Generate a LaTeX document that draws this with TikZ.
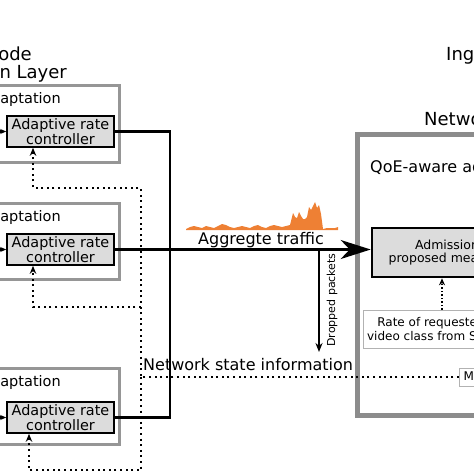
\documentclass[tikz,border=0pt]{standalone}
\usepackage{fontspec}
\setmainfont{DejaVu Sans}
\usetikzlibrary{arrows.meta}
\definecolor{traffic}{RGB}{238,128,52}
\definecolor{boxgray}{RGB}{150,150,150}
\definecolor{ctrlfill}{RGB}{220,220,220}

\begin{document}
\begin{tikzpicture}[x=1pt,y=-1pt,
  wire/.style={draw,line width=2.1pt},
  dotline/.style={line width=2pt,dash pattern=on 2pt off 3.6pt},
  dottip/.style={-{Stealth[length=8pt,width=6.5pt]}},
  adaptbox/.style={draw=boxgray,line width=3pt},
  ctrl/.style={draw,fill=ctrlfill,line width=1.6pt,minimum width=107pt,minimum height=31pt,inner sep=0pt,align=center,font=\fontsize{14.4}{15}\selectfont},
  title/.style={font=\fontsize{18}{20}\selectfont,inner sep=0pt},
  lbl/.style={font=\fontsize{16}{18}\selectfont,inner sep=0pt},
  info/.style={draw=black!30,fill=white,line width=1pt,inner sep=0pt,align=center,font=\fontsize{12}{13.5}\selectfont}]

\path[use as bounding box] (0,0) rectangle (474,474);
\clip (0,0) rectangle (474,474);

% titles
\node[title,anchor=base east] (srcnode) at (32,60) {Source Node};
\node[title,anchor=base east] (applayer) at (67,78) {Application Layer};
\node[title,anchor=base west] (ingnode) at (446,60) {Ingress Node};
\node[title,anchor=base west] (netlayer) at (424,125) {Network Layer};

% adaptation blocks
\foreach \i/\t/\b in {1/85/162,2/203/279,3/368/444}{
  \draw[adaptbox] (-40,\t) rectangle (119,\b);
  \node[font=\fontsize{14.5}{16}\selectfont,inner sep=0pt,anchor=base east] (adlbl\i) at (61,\t+18) {Rate adaptation};
}
\node[ctrl] (arc1) at (60.5,131.5) {Adaptive rate\\controller};
\node[ctrl] (arc2) at (60.5,249.5) {Adaptive rate\\controller};
\node[ctrl] (arc3) at (60.5,417.5) {Adaptive rate\\controller};

\foreach \i in {1,2,3}
  \draw[wire,-{Stealth[length=6pt,width=5pt]}] ([xshift=-20pt]arc\i.west) -- (arc\i.west);

% network layer
\draw[draw=black!45,line width=5pt] (357,134) rectangle (620,415);
\node[lbl,anchor=base west] (qoe) at (370,172) {QoE-aware admission control};
\node[draw,fill=ctrlfill,line width=2.6pt,minimum width=150pt,minimum height=49pt,inner sep=0pt,align=center,font=\fontsize{12.5}{13}\selectfont] (adm) at (447,252.5) {Admission\\proposed measure};
\node[info,minimum width=136pt,minimum height=38pt] (rate) at (431,329) {Rate of requested\\video class from SDN};
\node[info,anchor=west,minimum height=18pt,inner xsep=4pt] (mon) at (459,377) {Monitoring};
\draw[line width=1.3pt,dash pattern=on 1.3pt off 2.2pt,-{Stealth[length=7pt,width=6pt]}] (rate.north -| 442,0) -- (adm.south -| 442,0);

% aggregate traffic
\fill[traffic] (186,229) -- (190,227) -- (194,226) -- (198,227) -- (202,228) -- (206,226) -- (210,227)
  -- (214,228) -- (218,226) -- (222,224) -- (226,225) -- (230,227) -- (234,228) -- (238,227)
  -- (242,226) -- (246,227) -- (250,228) -- (254,226) -- (258,225) -- (262,227) -- (266,228)
  -- (270,226) -- (274,225) -- (278,226) -- (282,227) -- (286,226) -- (290,225) -- (293,213)
  -- (295,217) -- (297,218) -- (299,212) -- (301,216) -- (303,219) -- (305,219) -- (307,217)
  -- (309,207) -- (311,210) -- (313,206) -- (315,202) -- (317,208) -- (319,205) -- (321,214)
  -- (323,229) -- (327,228) -- (331,228) -- (335,228) -- (338,227) -- (338,230) -- (186,230) -- cycle;
\node[lbl,anchor=base west] (agg) at (198,244) {Aggregte traffic};

\coordinate (join) at (170,300);
\draw[wire] (arc1.east) -| (join) |- (arc3.east);
\draw[wire,-{Stealth[length=30pt,width=19pt,inset=9pt]}] (arc2.east) -- (arc2.east -| adm.west);

\coordinate (dropfrom) at (319,249.5);
\coordinate (dropto) at (319,352);
\draw[wire,-{Stealth[length=9pt,width=7pt]}] (dropfrom) -- (dropto);
\node[font=\fontsize{11}{12}\selectfont,inner sep=0pt,rotate=90] (drop) at (332,300) {Dropped packets};

% network state information
\coordinate (nsi) at (141,377);
\coordinate (b1) at (141,188);
\coordinate (b2) at (141,307);
\coordinate (b3) at (141,470);
\coordinate (d1) at (33,188);
\coordinate (d2) at (33,307);
\coordinate (d3) at (29,470);
\draw[dotline,dottip] (mon.west) -- (nsi) -- (b1) -- (d1) -- (d1 |- arc1.south);
\draw[dotline,dottip] (b2) -- (d2) -- (d2 |- arc2.south);
\draw[dotline,dottip] (nsi) -- (b3) -- (d3) -- (d3 |- arc3.south);
\node[lbl,anchor=base west] (nsilbl) at (143,370) {Network state information};

\end{tikzpicture}
\end{document}
